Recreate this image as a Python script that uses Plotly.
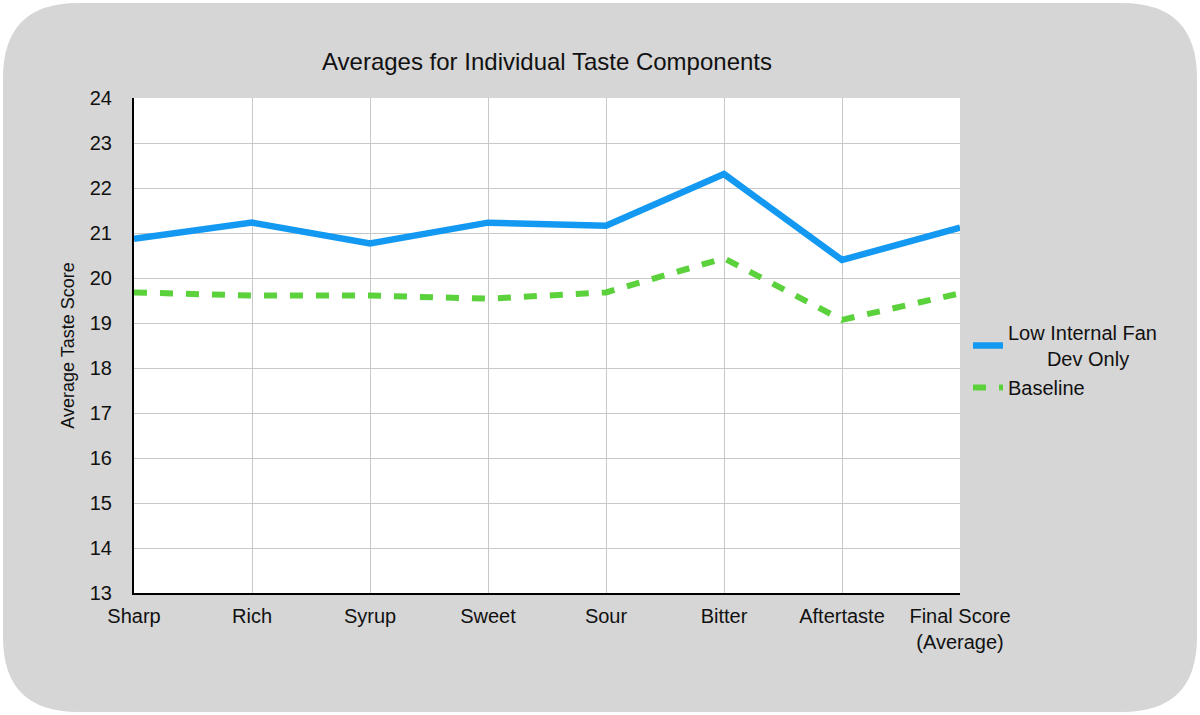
import plotly.graph_objects as go

categories = ["Sharp", "Rich", "Syrup", "Sweet", "Sour", "Bitter", "Aftertaste", "Final Score<br>(Average)"]
low_internal_fan = [20.87, 21.23, 20.77, 21.23, 21.16, 22.31, 20.40, 21.12]
baseline = [19.68, 19.61, 19.61, 19.54, 19.68, 20.44, 19.07, 19.66]
y_ticks = list(range(13, 25))

W, H = 1200, 715
L, R, T, B = 134, 240, 98, 122
pw, ph = W - L - R, H - T - B

def px_x(x):
    return (x - L) / pw

def px_y(y):
    return (H - B - y) / ph

# rounded gray background path in paper coordinates
x0, x1, y0, y1, r = 3, 1197, 3, 712, 75
def P(x, y):
    return f"{px_x(x):.5f},{px_y(y):.5f}"
path = (f"M {P(x0 + r, y0)} L {P(x1 - r, y0)} Q {P(x1, y0)} {P(x1, y0 + r)} "
        f"L {P(x1, y1 - r)} Q {P(x1, y1)} {P(x1 - r, y1)} "
        f"L {P(x0 + r, y1)} Q {P(x0, y1)} {P(x0, y1 - r)} "
        f"L {P(x0, y0 + r)} Q {P(x0, y0)} {P(x0 + r, y0)} Z")

font = "Liberation Sans, Arial, Helvetica, sans-serif"

fig = go.Figure()
fig.add_trace(go.Scatter(x=categories, y=low_internal_fan, mode="lines",
                         name="Low Internal Fan<br>       Dev Only",
                         line=dict(color="#1399f2", width=6.5)))
fig.add_trace(go.Scatter(x=categories, y=baseline, mode="lines", name="Baseline",
                         line=dict(color="#5bd13c", width=6, dash="13px,13px")))

fig.update_layout(
    width=W, height=H,
    margin=dict(l=L, r=R, t=T, b=B),
    paper_bgcolor="white",
    plot_bgcolor="rgba(0,0,0,0)",
    font=dict(family=font, size=20, color="#111111"),
    title=dict(text="Averages for Individual Taste Components", x=547 / W, xanchor="center",
               y=1 - 62 / H, yanchor="middle", font=dict(size=24, color="#111111")),
    shapes=[
        dict(type="path", path=path, xref="paper", yref="paper", layer="below",
             fillcolor="#d6d6d6", line=dict(width=0)),
        dict(type="rect", x0=0, x1=1, y0=0, y1=1, xref="paper", yref="paper", layer="below",
             fillcolor="white", line=dict(width=0)),
    ],
    xaxis=dict(type="category", range=[0, 7], showgrid=True, gridcolor="#c8c8c8", gridwidth=1,
               showline=True, linecolor="black", linewidth=2, ticks="", tickfont=dict(size=20),
               ticklabelstandoff=4, zeroline=False, fixedrange=True),
    yaxis=dict(range=[13, 24], tickvals=y_ticks, showgrid=True, gridcolor="#c8c8c8", gridwidth=1,
               showline=True, linecolor="black", linewidth=2, ticks="", ticklabelstandoff=16,
               tickfont=dict(size=20), zeroline=False,
               title=dict(text="Average Taste Score", font=dict(size=18), standoff=10)),
    legend=dict(x=px_x(968), xanchor="left", y=px_y(313), yanchor="top",
                bgcolor="rgba(0,0,0,0)", font=dict(size=20), tracegroupgap=0,
                itemwidth=30),
    showlegend=True,
)

fig.write_html("out.html")
